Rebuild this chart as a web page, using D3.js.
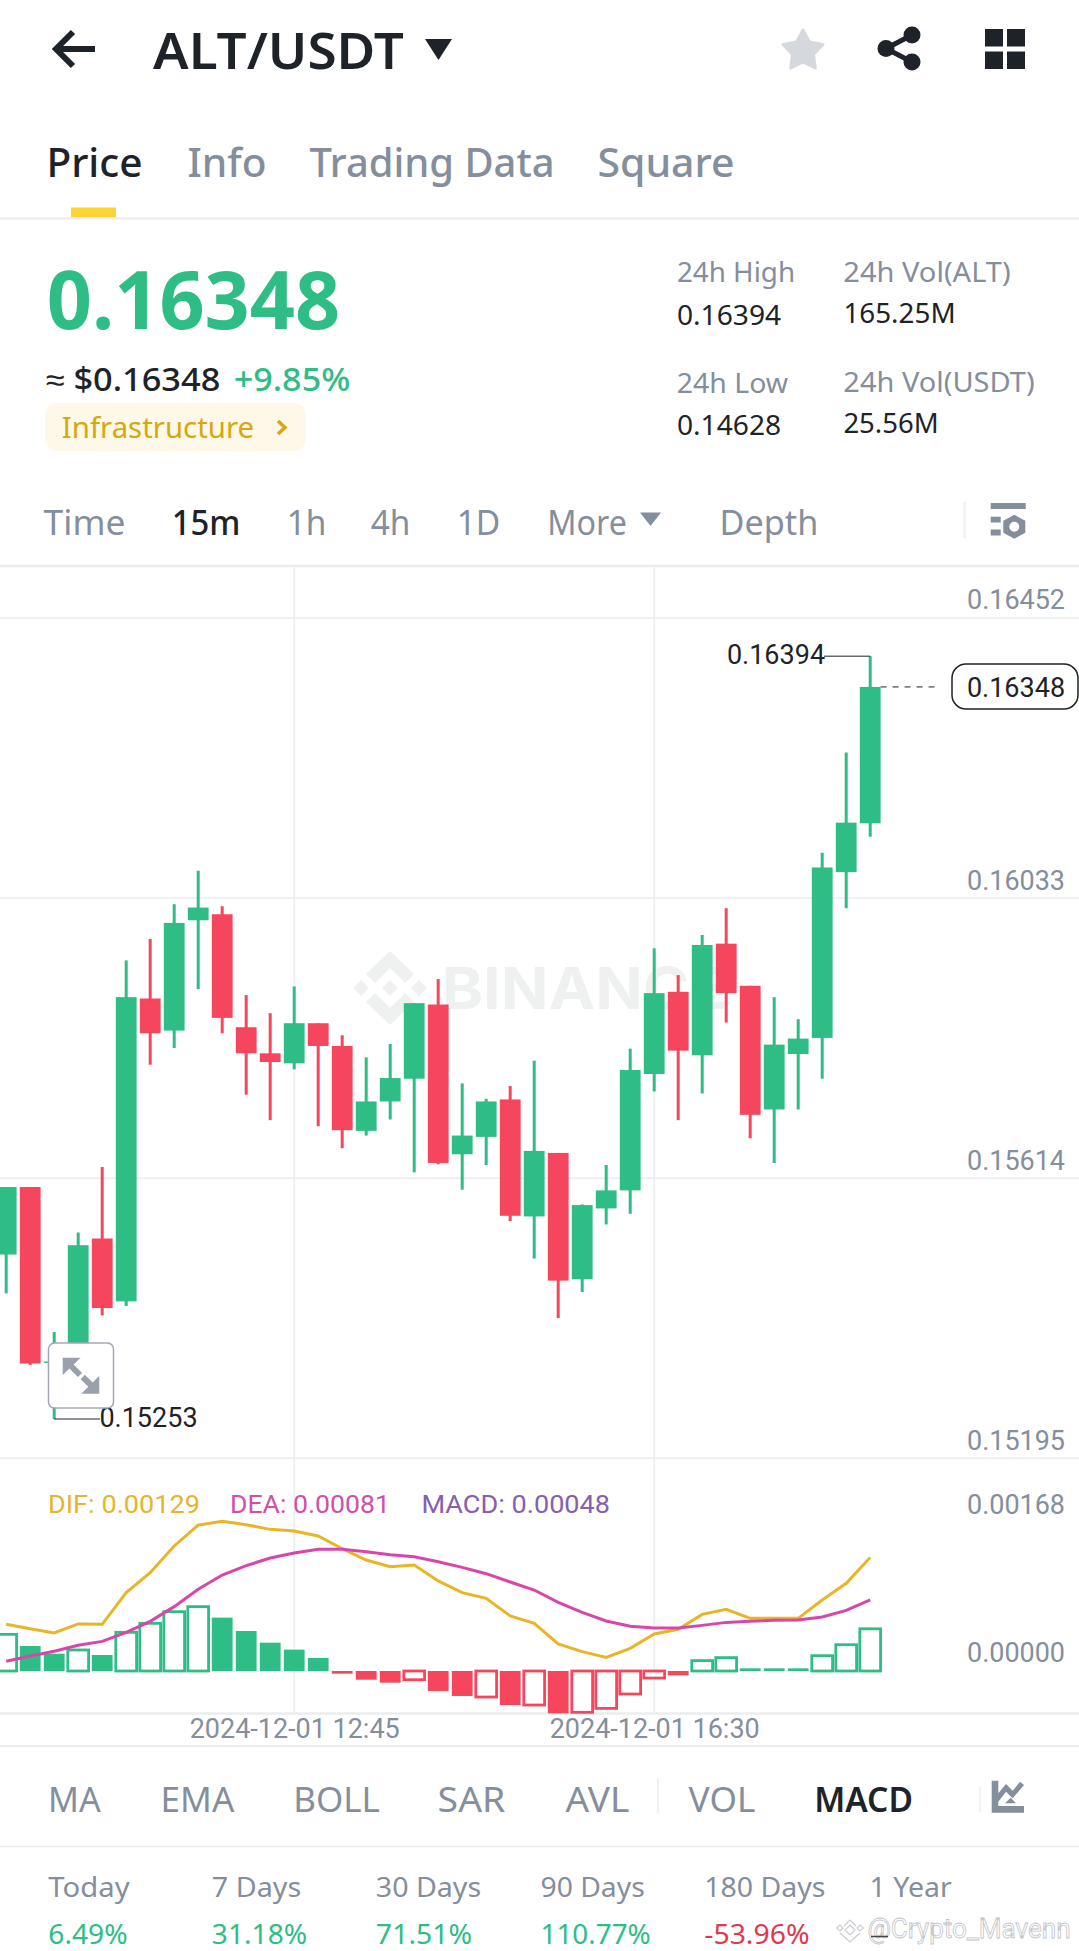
<!DOCTYPE html>
<html>
<head>
<meta charset="utf-8">
<title>ALT/USDT</title>
<script src="https://cdn.jsdelivr.net/npm/d3@7/dist/d3.min.js"></script>
<style>
html, body { margin: 0; padding: 0; background: #fff; }
svg { display: block; }
</style>
</head>
<body>
<div id="chart"></div>
<script>
// 15m candles, index 0 is 09:45
var open = [0.15499,0.15600,0.15337,0.15339,0.15523,0.15429,0.15882,0.15834,0.15999,0.16008,0.15839,0.15800,0.15785,0.15845,0.15811,0.15684,0.15728,0.15762,0.15873,0.15649,0.15675,0.15731,0.15556,0.15651,0.15462,0.15568,0.15595,0.15769,0.15892,0.15797,0.15964,0.15901,0.15716,0.15799,0.15823,0.16071,0.16144];
var high = [0.15600,0.15600,0.15383,0.15532,0.15630,0.15939,0.15971,0.16023,0.16073,0.16020,0.15887,0.15860,0.15900,0.15845,0.15827,0.15794,0.15814,0.15875,0.15911,0.15755,0.15732,0.15751,0.15789,0.15651,0.15574,0.15633,0.15807,0.15957,0.15917,0.15977,0.16017,0.15901,0.15884,0.15851,0.16100,0.16250,0.16394];
var low = [0.15441,0.15334,0.15253,0.15335,0.15408,0.15422,0.15783,0.15808,0.15896,0.15830,0.15738,0.15700,0.15776,0.15691,0.15658,0.15677,0.15701,0.15622,0.15634,0.15596,0.15633,0.15549,0.15493,0.15404,0.15443,0.15544,0.15560,0.15743,0.15700,0.15740,0.15846,0.15673,0.15636,0.15716,0.15762,0.16017,0.16124];
var close = [0.15600,0.15336,0.15339,0.15513,0.15419,0.15884,0.15830,0.15995,0.16018,0.15853,0.15800,0.15787,0.15845,0.15811,0.15685,0.15728,0.15763,0.15875,0.15636,0.15677,0.15728,0.15557,0.15654,0.15460,0.15573,0.15595,0.15775,0.15890,0.15804,0.15962,0.15890,0.15708,0.15813,0.15822,0.16078,0.16145,0.16348];

var dif = [0.000531,0.000481,0.000432,0.000535,0.000531,0.000891,0.001118,0.001422,0.001660,0.001702,0.001664,0.001611,0.001592,0.001535,0.001391,0.001262,0.001187,0.001206,0.001024,0.000891,0.000826,0.000626,0.000542,0.000307,0.000220,0.000155,0.000258,0.000421,0.000474,0.000644,0.000701,0.000599,0.000599,0.000599,0.000807,0.000997,0.00129];
var dea = [0.000110,0.000171,0.000224,0.000292,0.000337,0.000440,0.000565,0.000732,0.000929,0.001092,0.001198,0.001285,0.001342,0.001384,0.001384,0.001357,0.001323,0.001300,0.001243,0.001179,0.001107,0.001012,0.000921,0.000781,0.000667,0.000569,0.000508,0.000489,0.000489,0.000519,0.000553,0.000565,0.000576,0.000580,0.000614,0.000690,0.00081];
var macd = [0.000417,0.000284,0.000197,0.000239,0.000182,0.000440,0.000542,0.000675,0.000732,0.000607,0.000455,0.000322,0.000243,0.000148,-0.000030,-0.000099,-0.000133,-0.000099,-0.000227,-0.000284,-0.000296,-0.000387,-0.000387,-0.000481,-0.000470,-0.000425,-0.000262,-0.000080,-0.000049,0.000118,0.000152,0.000030,0.000030,0.000030,0.000174,0.000299,0.00048];
var macdHollow = [1,0,0,1,0,1,1,1,1,0,0,0,0,0,0,0,0,1,0,0,1,0,1,0,1,1,1,1,0,1,1,0,0,0,1,1,1];

var priceTicks = [0.16452, 0.16033, 0.15614, 0.15195];
var macdTicks = [0.00168, 0];
var timeTicks = [12, 27];
var timeLabels = ["2024-12-01 12:45", "2024-12-01 16:30"];

var GREEN = "#2EBD85", RED = "#F6465D", DARK = "#1E2329", GRAY = "#848E9C", LINE = "#EAECEF";
var UI = "'Noto Sans', sans-serif", NUM = "Roboto, sans-serif";

var svg = d3.select("#chart").append("svg").attr("width", 1079).attr("height", 1951);

var x = d3.scaleLinear().domain([0, 36]).range([6.2, 870.2]);
var y = d3.scaleLinear().domain([0.15195, 0.16452]).range([1457.8, 617.4]);
var yMacd = d3.scaleLinear().domain([0, 0.00168]).range([1671, 1523.3]);
var bodyW = 20.8;

function label(text, lx, ly, size, color, weight, width, family) {
    var t = svg.append("text").attr("x", lx - size * 0.04).attr("y", ly)
        .attr("font-family", family || UI).attr("font-size", size)
        .attr("font-weight", weight || 400).attr("fill", color).text(text);
    if (width) t.attr("textLength", width + size * 0.08).attr("lengthAdjust", "spacingAndGlyphs");
    return t;
}

function rule(x1, y1, x2, y2, color, w) {
    return svg.append("line").attr("x1", x1).attr("y1", y1).attr("x2", x2).attr("y2", y2)
        .attr("stroke", color).attr("stroke-width", w);
}

function icon(d, color) {
    return svg.append("path").attr("d", d).attr("fill", color);
}

// header
svg.append("path").attr("d", "M95 49H58M73 32L56 49L73 66").attr("fill", "none").attr("stroke", DARK)
    .attr("stroke-width", 6);
label("ALT/USDT", 155, 69, 50, DARK, 600, 247);
icon("M425 39H452L438.5 60Z", DARK);
var starPts = d3.range(10).map(function (i) {
    var r = i % 2 ? 11 : 21, a = i * Math.PI / 5;
    return [803 + r * Math.sin(a), 51 - r * Math.cos(a)];
});
svg.append("path").attr("d", d3.line()(starPts) + "Z").attr("fill", "#D5D9DE").attr("stroke", "#D5D9DE")
    .attr("stroke-width", 3).attr("stroke-linejoin", "round");
svg.append("path").attr("d", "M912 35L886 48.5L912 62").attr("fill", "none").attr("stroke", DARK).attr("stroke-width", 5);
[[886, 48.5], [912, 35], [912, 62]].forEach(function (c) {
    svg.append("circle").attr("cx", c[0]).attr("cy", c[1]).attr("r", 8.5).attr("fill", DARK);
});
[[985, 29], [1007, 29], [985, 51.5], [1007, 51.5]].forEach(function (c) {
    svg.append("rect").attr("x", c[0]).attr("y", c[1]).attr("width", 18).attr("height", 17.5).attr("fill", DARK);
});

// tabs
label("Price", 48, 177, 39, DARK, 500, 93);
label("Info", 189, 177, 39, GRAY, 500, 76);
label("Trading Data", 311, 177, 39, GRAY, 500, 242);
label("Square", 599, 177, 39, GRAY, 500, 134);
svg.append("rect").attr("x", 71).attr("y", 207.5).attr("width", 45).attr("height", 10).attr("fill", "#FCD535");
rule(0, 218.5, 1079, 218.5, LINE, 2);

// price block
label("0.16348", 50, 328.5, 80, GREEN, 700, 287);
label("≈ $0.16348", 47, 391, 32, DARK, 500, 172);
label("+9.85%", 235, 391, 32, GREEN, 500, 114);
svg.append("rect").attr("x", 45).attr("y", 403).attr("width", 261).attr("height", 48).attr("rx", 12).attr("fill", "#FDF8E7");
label("Infrastructure", 63, 438, 29, "#D8A70C", 400, 190);
svg.append("path").attr("d", "M278 421L285 427.5L278 434").attr("fill", "none").attr("stroke", "#D8A70C").attr("stroke-width", 3.5);

label("24h High", 678, 282, 28, GRAY, 400, 116);
label("0.16394", 678, 325, 28, DARK, 400, 102);
label("24h Vol(ALT)", 844.5, 282, 28, GRAY, 400, 165);
label("165.25M", 844.5, 323, 28, DARK, 400, 110);
label("24h Low", 678, 393, 28, GRAY, 400, 109);
label("0.14628", 678, 435, 28, DARK, 400, 102);
label("24h Vol(USDT)", 844.5, 392, 28, GRAY, 400, 189);
label("25.56M", 844.5, 433, 28, DARK, 400, 93);

// interval row
label("Time", 45, 535, 34, GRAY, 400, 79);
label("15m", 173, 535, 34, DARK, 500, 66);
label("1h", 288, 535, 34, GRAY, 400, 37);
label("4h", 372, 535, 34, GRAY, 400, 37);
label("1D", 458, 535, 34, GRAY, 400, 41);
label("More", 548.5, 535, 34, GRAY, 400, 77);
icon("M640 512.5H661L650.5 526Z", GRAY);
label("Depth", 721, 535, 34, GRAY, 400, 96);
rule(964.5, 502, 964.5, 538, "#EFF1F3", 2.5);
svg.append("rect").attr("x", 990.7).attr("y", 503).attr("width", 35).attr("height", 6).attr("fill", GRAY);
svg.append("rect").attr("x", 990.7).attr("y", 516.7).attr("width", 10).attr("height", 5.8).attr("fill", GRAY);
svg.append("rect").attr("x", 990.7).attr("y", 529.5).attr("width", 10).attr("height", 6).attr("fill", GRAY);
icon("M1014.3 514.7L1025.3 520.7V532.7L1014.3 538.7L1003.3 532.7V520.7ZM1014.3 521.7A5 5 0 1 0 1014.3 531.7A5 5 0 1 0 1014.3 521.7Z", GRAY).attr("fill-rule", "evenodd");

// chart frame
rule(0, 566, 1079, 566, LINE, 2.5);
rule(0, 1713.5, 1079, 1713.5, LINE, 2.5);
timeTicks.forEach(function (t) {
    rule(x(t), 567, x(t), 1713, "#EEF0F3", 2);
});

// watermark sits under the candles
icon("M390 951L414 974L405 983L390 968L375 983L366 974ZM390 1025L414 1002L405 993L390 1008L375 993L366 1002ZM390 980L398 988L390 996L382 988ZM353 988L361 980L369 988L361 996ZM411 988L419 980L427 988L419 996Z", "#EFF1F1");
label("BINANCE", 444, 1008.5, 58, "#EFF1F1", 700, 281, "Inter, sans-serif");

// price axis with grid
var priceAxis = d3.axisRight(y).tickValues(priceTicks).tickFormat(d3.format(".5f")).tickSize(1079);
var gPrice = svg.append("g").attr("class", "price-axis").call(priceAxis);
gPrice.select(".domain").remove();
gPrice.selectAll(".tick line").attr("stroke", LINE).attr("stroke-width", 1.5);
gPrice.selectAll(".tick text").attr("x", 967).attr("dy", "-8.5").attr("font-family", NUM)
    .attr("font-size", 27).attr("fill", GRAY).attr("textLength", 98).attr("lengthAdjust", "spacingAndGlyphs");

// candles
var idx = d3.range(open.length);
var candles = svg.append("g").attr("class", "candles").selectAll("g").data(idx).join("g")
    .attr("fill", function (i) { return close[i] >= open[i] ? GREEN : RED; });
candles.append("rect")
    .attr("x", function (i) { return x(i) - 1.5; })
    .attr("width", 3)
    .attr("y", function (i) { return y(high[i]); })
    .attr("height", function (i) { return y(low[i]) - y(high[i]); });
candles.append("rect")
    .attr("x", function (i) { return x(i) - bodyW / 2; })
    .attr("width", bodyW)
    .attr("y", function (i) { return y(Math.max(open[i], close[i])); })
    .attr("height", function (i) { return Math.abs(y(open[i]) - y(close[i])); });

// high, low and last price marks
rule(824, y(0.16394), x(36), y(0.16394), DARK, 1);
label("0.16394", 728, 663.5, 27, DARK, 400, 96, NUM);
rule(x(2), y(0.15253), 100, y(0.15253), DARK, 1.2);
label("0.15253", 100.5, 1426.5, 27, DARK, 400, 96, NUM);
rule(x(36) + bodyW / 2, y(0.16348), 935, y(0.16348), DARK, 1).attr("stroke-dasharray", "6 6");
svg.append("rect").attr("x", 952).attr("y", 664).attr("width", 126).attr("height", 45).attr("rx", 14)
    .attr("fill", "#fff").attr("stroke", DARK).attr("stroke-width", 1.5);
label("0.16348", 968, 696.5, 27, DARK, 400, 96, NUM);

// expand button
svg.append("rect").attr("x", 48.5).attr("y", 1343).attr("width", 65).attr("height", 65).attr("rx", 6)
    .attr("fill", "#fff").attr("stroke", "#A2A8B2").attr("stroke-width", 1.5);
icon("M62.7 1357.7H80.7L62.7 1375ZM99.3 1393.7H81.3L99.3 1375.7Z", "#9AA1AC");
rule(68, 1363, 80, 1375, "#9AA1AC", 6);
rule(94, 1388, 82.7, 1377, "#9AA1AC", 6);

// macd histogram
var barColor = function (i) { return macd[i] >= 0 ? GREEN : RED; };
svg.append("g").attr("class", "macd-bars").selectAll("rect").data(idx).join("rect")
    .attr("x", function (i) { return x(i) - bodyW / 2; })
    .attr("width", bodyW)
    .attr("y", function (i) { return Math.min(yMacd(macd[i]), yMacd(0)); })
    .attr("height", function (i) { return Math.abs(yMacd(macd[i]) - yMacd(0)); })
    .attr("fill", function (i) { return macdHollow[i] ? "#fff" : barColor(i); })
    .attr("stroke", function (i) { return macdHollow[i] ? barColor(i) : "none"; })
    .attr("stroke-width", 2.8);

// macd lines
var macdLine = function (values) {
    return d3.line().x(function (d, i) { return x(i); }).y(function (d) { return yMacd(d); })(values);
};
svg.append("path").attr("d", macdLine(dif)).attr("fill", "none").attr("stroke", "#E8B526").attr("stroke-width", 3);
svg.append("path").attr("d", macdLine(dea)).attr("fill", "none").attr("stroke", "#D846AC").attr("stroke-width", 3);

label("DIF: 0.00129", 49, 1512.7, 26.5, "#E6B530", 400, 150, NUM);
label("DEA: 0.00081", 231, 1512.7, 26.5, "#CF50A8", 400, 158, NUM);
label("MACD: 0.00048", 422.5, 1512.7, 26.5, "#8560B0", 400, 186.5, NUM);

var macdAxis = d3.axisRight(yMacd).tickValues(macdTicks).tickFormat(d3.format(".5f")).tickSize(0);
var gMacd = svg.append("g").attr("class", "macd-axis").call(macdAxis);
gMacd.select(".domain").remove();
gMacd.selectAll(".tick text").attr("x", 967).attr("dy", "-9.5").attr("font-family", NUM)
    .attr("font-size", 27).attr("fill", GRAY).attr("textLength", 98).attr("lengthAdjust", "spacingAndGlyphs");

// time axis
var timeAxis = d3.axisBottom(x).tickValues(timeTicks).tickSize(0)
    .tickFormat(function (d, i) { return timeLabels[i]; });
var gTime = svg.append("g").attr("class", "time-axis").attr("transform", "translate(0,1717)").call(timeAxis);
gTime.select(".domain").remove();
gTime.selectAll(".tick text").attr("y", 21).attr("dy", 0).attr("font-family", NUM)
    .attr("font-size", 27).attr("fill", GRAY).attr("textLength", 210).attr("lengthAdjust", "spacingAndGlyphs");

// indicator row
rule(0, 1746, 1079, 1746, LINE, 2);
label("MA", 49.5, 1811.5, 34, GRAY, 400, 50);
label("EMA", 162, 1811.5, 34, GRAY, 400, 71);
label("BOLL", 294.6, 1811.5, 34, GRAY, 400, 84);
label("SAR", 439, 1811.5, 34, GRAY, 400, 65);
label("AVL", 567, 1811.5, 34, GRAY, 400, 61);
rule(658, 1778, 658, 1813, LINE, 1.5);
label("VOL", 690, 1811.5, 34, GRAY, 400, 64);
label("MACD", 815.6, 1811.5, 34, DARK, 600, 96);
rule(980, 1787, 980, 1812, "#F3F4F6", 2.5);
icon("M991.7 1780.7H998.3V1806H1024V1812.7H991.7ZM998.3 1793.3L1006 1784L1012.7 1790.7L1020 1781.7L1024 1785L1012.7 1798.3L1006 1791.7L998.3 1801.7ZM1010.7 1797.7L1016 1803.3H1005Z", GRAY);
rule(0, 1846.5, 1079, 1846.5, LINE, 1.5);

// change row
var perfX = [49.5, 213, 377, 541.6, 705.4];
label("Today", perfX[0], 1896.5, 28, GRAY, 400, 79);
label("7 Days", perfX[1], 1896.5, 28, GRAY, 400, 87);
label("30 Days", perfX[2], 1896.5, 28, GRAY, 400, 103);
label("90 Days", perfX[3], 1896.5, 28, GRAY, 400, 102);
label("180 Days", perfX[4], 1896.5, 28, GRAY, 400, 119);
label("1 Year", 870.6, 1896.5, 28, GRAY, 400, 80);
label("6.49%", perfX[0], 1944, 28, GREEN, 400, 77);
label("31.18%", perfX[1], 1944, 28, GREEN, 400, 93);
label("71.51%", perfX[2], 1944, 28, GREEN, 400, 94);
label("110.77%", perfX[3], 1944, 28, GREEN, 400, 108);
label("-53.96%", perfX[4], 1944, 28, "#E0394F", 400, 103);

// image watermark, thin outlined look
svg.append("path").attr("d", "M844 1926L850 1920L856 1926M850 1925L855 1930L850 1935L845 1930ZM836.5 1928L840 1925L843 1928L840 1931ZM857 1928L860 1925L863.5 1928L860 1931ZM840 1933L850 1942L860 1933")
    .attr("fill", "none").attr("stroke", "#C9CCD0").attr("stroke-width", 1.1);
label("@Crypto_Mavenn", 868.5, 1938, 27, "#fff", 400, 201, NUM).attr("stroke", "#BFC3C8").attr("stroke-width", 0.8);
rule(871, 1936.5, 888, 1936.5, "#444", 1.5);
</script>
</body>
</html>
